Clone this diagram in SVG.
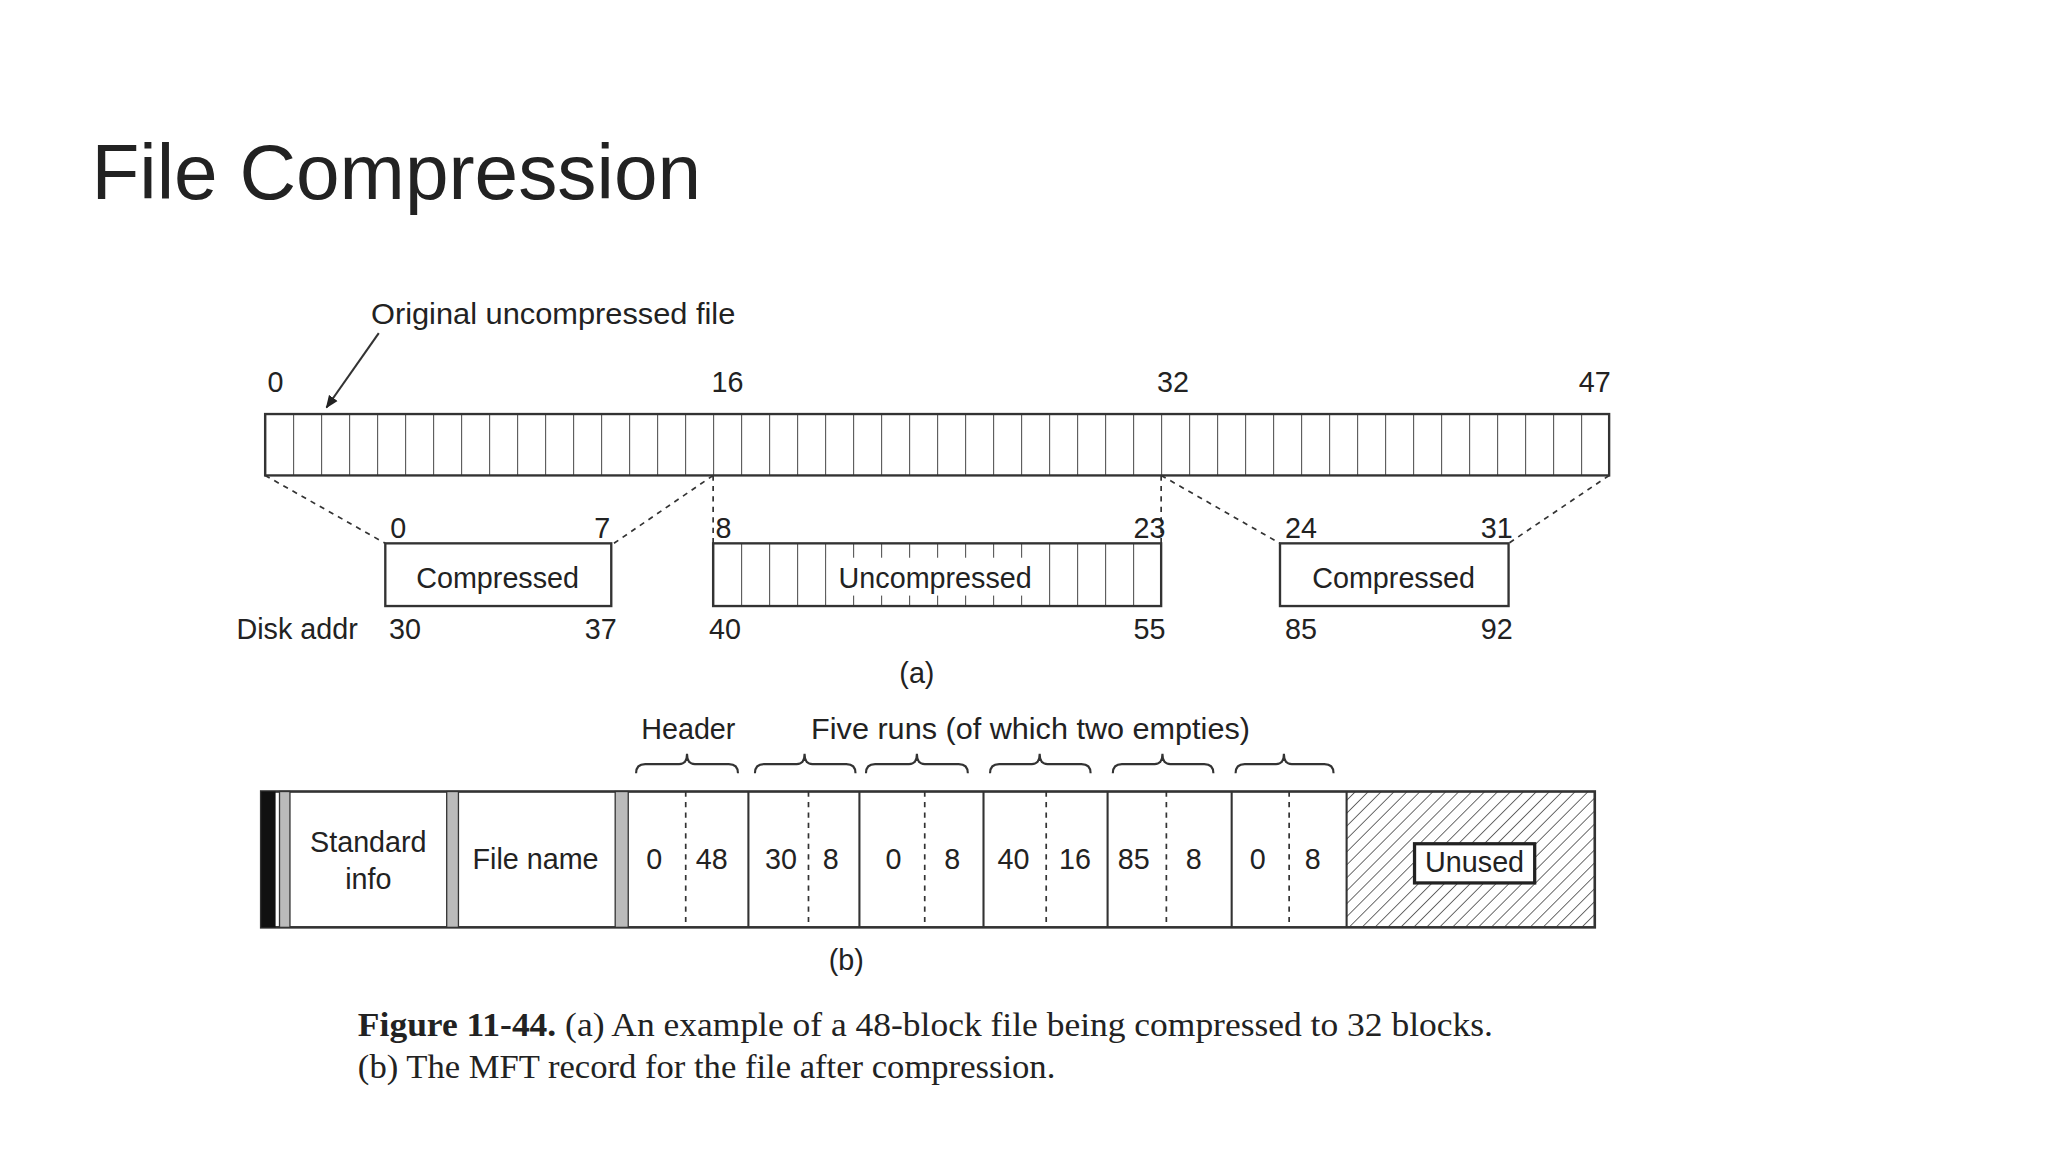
<svg xmlns="http://www.w3.org/2000/svg" width="2048" height="1152" viewBox="0 0 2048 1152">
<style>
.t{font-family:"Liberation Sans",Arial,sans-serif;fill:#222}
.s{font-size:22px}
.ln{stroke:#333;stroke-width:1.6;fill:none}
.dash{stroke:#333;stroke-width:1.3;stroke-dasharray:4 4;fill:none}
.cap{font-family:"Liberation Serif","Times New Roman",serif;font-size:25px;fill:#222}
</style>
<defs>
<pattern id="cells" x="203" y="0" width="21.4375" height="100" patternUnits="userSpaceOnUse">
<line x1="0" y1="0" x2="0" y2="100" stroke="#333" stroke-width="1.4"/>
</pattern>
<pattern id="hatch" width="7" height="7" patternUnits="userSpaceOnUse" patternTransform="rotate(45)">
<line x1="0" y1="0" x2="0" y2="7" stroke="#444" stroke-width="1.2"/>
</pattern>
<marker id="ah" markerWidth="10" markerHeight="10" refX="9" refY="5" orient="auto" markerUnits="userSpaceOnUse">
<path d="M0,1 L10,5 L0,9 Z" fill="#222"/>
</marker>
</defs>
<rect width="2048" height="1152" fill="#fff"/>
<g transform="scale(1.30612)">
<text x="70" y="152" class="t" font-size="60" fill="#000">File Compression</text>

<g id="original">
<text x="284" y="248" class="t" font-size="22.5" textLength="279" lengthAdjust="spacingAndGlyphs">Original uncompressed file</text>
<rect x="203" y="317" width="1029" height="47" fill="url(#cells)" stroke="#333" stroke-width="1.8"/>
<text x="211" y="300" class="t s" text-anchor="middle">0</text>
<text x="557" y="300" class="t s" text-anchor="middle">16</text>
<text x="898" y="300" class="t s" text-anchor="middle">32</text>
<text x="1221" y="300" class="t s" text-anchor="middle">47</text>
</g>

<g id="connectors">
<line x1="290" y1="255" x2="250" y2="312" class="ln" marker-end="url(#ah)"/>
<path class="dash" d="M203,364 L295,416 M546,364 L470,416 M546,364 L546,416 M889,364 L889,416 M889,364 L980,416 M1232,364 L1155,416"/>
</g>

<g id="comp1">
<rect x="295" y="416" width="173" height="48" fill="#fff" stroke="#333" stroke-width="1.8"/>
<text x="381" y="450" class="t s" text-anchor="middle">Compressed</text>
<text x="305" y="412" class="t s" text-anchor="middle">0</text>
<text x="461" y="412" class="t s" text-anchor="middle">7</text>
</g>
<g id="uncomp">
<rect x="546" y="416" width="343" height="48" fill="url(#cells)" stroke="#333" stroke-width="1.8"/>
<rect x="633" y="427" width="169" height="29" fill="#fff"/>
<text x="716" y="450" class="t s" text-anchor="middle">Uncompressed</text>
<text x="554" y="412" class="t s" text-anchor="middle">8</text>
<text x="880" y="412" class="t s" text-anchor="middle">23</text>
</g>
<g id="comp2">
<rect x="980" y="416" width="175" height="48" fill="#fff" stroke="#333" stroke-width="1.8"/>
<text x="1067" y="450" class="t s" text-anchor="middle">Compressed</text>
<text x="996" y="412" class="t s" text-anchor="middle">24</text>
<text x="1146" y="412" class="t s" text-anchor="middle">31</text>
</g>
<g id="diskaddr" class="t s">
<text x="181" y="489">Disk addr</text>
<text x="310" y="489" text-anchor="middle">30</text>
<text x="460" y="489" text-anchor="middle">37</text>
<text x="555" y="489" text-anchor="middle">40</text>
<text x="880" y="489" text-anchor="middle">55</text>
<text x="996" y="489" text-anchor="middle">85</text>
<text x="1146" y="489" text-anchor="middle">92</text>
<text x="702" y="523" text-anchor="middle">(a)</text>
</g>

<g id="labels-b" class="t s">
<text x="527" y="566" text-anchor="middle">Header</text>
<text x="789" y="566" text-anchor="middle" textLength="336" lengthAdjust="spacingAndGlyphs">Five runs (of which two empties)</text>
</g>
<g id="braces" class="ln" stroke-width="1.4">
<path d="M487,592 Q487,585 494,585 L520,585 Q526,585 526,577 Q526,585 532,585 L558,585 Q565,585 565,592"/>
<path d="M578,592 Q578,585 585,585 L610,585 Q616,585 616,577 Q616,585 622,585 L648,585 Q655,585 655,592"/>
<path d="M663,592 Q663,585 670,585 L696,585 Q702,585 702,577 Q702,585 708,585 L734,585 Q741,585 741,592"/>
<path d="M758,592 Q758,585 765,585 L790,585 Q796,585 796,577 Q796,585 802,585 L828,585 Q835,585 835,592"/>
<path d="M852,592 Q852,585 859,585 L884,585 Q890,585 890,577 Q890,585 896,585 L922,585 Q929,585 929,592"/>
<path d="M946,592 Q946,585 953,585 L977,585 Q983,585 983,577 Q983,585 989,585 L1014,585 Q1021,585 1021,592"/>
</g>

<g id="record">
<rect x="1031" y="606" width="190" height="104" fill="url(#hatch)"/>
<rect x="200" y="606" width="1021" height="104" fill="none" stroke="#333" stroke-width="2"/>
<rect x="200" y="606" width="11" height="104" fill="#111"/>
<rect x="214" y="606" width="8" height="104" fill="#bbb" stroke="#333" stroke-width="1"/>
<rect x="342" y="606" width="9" height="104" fill="#bbb" stroke="#333" stroke-width="1"/>
<rect x="471" y="606" width="10" height="104" fill="#bbb" stroke="#333" stroke-width="1"/>
<path class="ln" d="M573,606 V710 M658,606 V710 M753,606 V710 M848,606 V710 M943,606 V710 M1031,606 V710"/>
<path class="dash" d="M525,606 V710 M619,606 V710 M708,606 V710 M801,606 V710 M893,606 V710 M987,606 V710"/>
<g class="t s" text-anchor="middle">
<text x="282" y="652">Standard</text>
<text x="282" y="681">info</text>
<text x="410" y="665">File name</text>
<text x="501" y="665">0</text><text x="545" y="665">48</text>
<text x="598" y="665">30</text><text x="636" y="665">8</text>
<text x="684" y="665">0</text><text x="729" y="665">8</text>
<text x="776" y="665">40</text><text x="823" y="665">16</text>
<text x="868" y="665">85</text><text x="914" y="665">8</text>
<text x="963" y="665">0</text><text x="1005" y="665">8</text>
</g>
<rect x="1083" y="646" width="92" height="30" fill="#fff" stroke="#222" stroke-width="2.5"/>
<text x="1129" y="668" class="t s" text-anchor="middle">Unused</text>
<text x="648" y="743" class="t s" text-anchor="middle">(b)</text>
</g>

<g id="caption">
<text x="274" y="793" class="cap" textLength="869" lengthAdjust="spacingAndGlyphs"><tspan font-weight="bold">Figure 11-44.</tspan> (a) An example of a 48-block file being compressed to 32 blocks.</text>
<text x="274" y="825" class="cap" textLength="534" lengthAdjust="spacingAndGlyphs">(b) The MFT record for the file after compression.</text>
</g>
</g>
</svg>
